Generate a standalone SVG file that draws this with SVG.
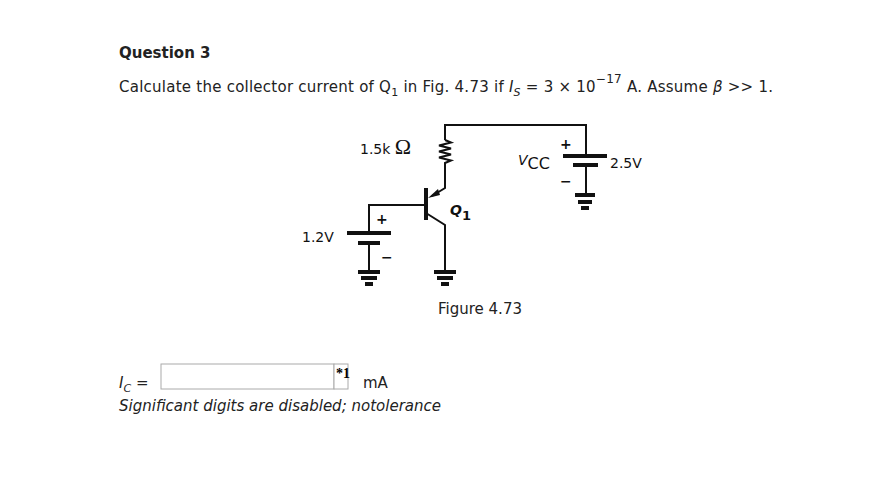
<svg xmlns="http://www.w3.org/2000/svg" width="884" height="487" viewBox="0 0 884 487">
<style>
.t{font-family:"DejaVu Sans",Verdana,sans-serif;font-size:15px;fill:#222}
.w{stroke:#111;stroke-width:2;fill:none}
.p{stroke:#111;stroke-width:4;fill:none}
.c{font-family:"DejaVu Sans",sans-serif;font-size:14px;fill:#111}
</style>
<rect width="884" height="487" fill="#fff"/>
<text x="119" y="58" class="t" font-weight="bold" font-size="16">Question 3</text>
<text x="119" y="92" class="t" textLength="654">Calculate the collector current of Q<tspan font-size="11" dy="4">1</tspan><tspan dy="-4"> in Fig. 4.73 if </tspan><tspan font-style="italic">I</tspan><tspan font-size="11" font-style="italic" dy="4">S</tspan><tspan dy="-4"> = 3 × 10</tspan><tspan font-size="12" dy="-9">−17</tspan><tspan dy="9"> A. Assume </tspan><tspan font-style="italic">β</tspan> &gt;&gt; 1.</text>
<g id="connectors">
<path class="w" d="M445 140V125H586V156"/>
<path class="w" d="M445 140l6 2.5-12 3 12 3-12 3 12 3-12 3 12 3-6 2.5V188L432 196"/>
<path d="M428 198l10-9 2 6z" fill="#111"/>
<path class="p" d="M426 188V220"/>
<path class="w" d="M426 205H369V232M369 243V272M426 213L445 225V272M586 165V195"/>
<path class="p" d="M347 233H391M358 243H380M563 156H607M573 165H598"/>
<path class="p" d="M358 272H380M361 278H377M365 284H373M575 195H595M578 202H592M581 208H589M434 272H456M437 278H453M441 284H449" stroke-width="3"/>
</g>
<g id="labels">
<text x="360" y="154" class="c" font-size="15">1.5k <tspan font-family="Liberation Serif" font-size="22">Ω</tspan></text>
<text x="450" y="215" class="c" font-size="19" font-weight="bold" font-style="italic">Q<tspan font-size="13" dy="5" font-style="normal">1</tspan></text>
<text x="302" y="242" class="c" font-size="15">1.2V</text>
<text x="376" y="224" class="c" font-size="19" font-weight="bold">+</text>
<text x="381" y="262" class="c" font-size="18" font-weight="bold">−</text>
<text x="518" y="165" class="c" font-size="20" font-style="italic">V<tspan font-style="normal" font-size="16" dy="4">CC</tspan></text>
<text x="560" y="149" class="c" font-size="18" font-weight="bold">+</text>
<text x="560" y="186" class="c" font-size="18" font-weight="bold">−</text>
<text x="610" y="168" class="c" font-size="15">2.5V</text>
<text x="438" y="314" class="t" font-size="14">Figure 4.73</text>
</g>
<g id="answer">
<text x="119" y="388" class="t" font-style="italic">I<tspan font-size="11" dy="4">C</tspan><tspan dy="-4" font-style="normal"> =</tspan></text>
<rect x="161" y="364" width="173" height="25" fill="#fff" stroke="#aaa"/>
<rect x="334" y="364" width="14" height="25" fill="#fff" stroke="#aaa"/>
<text x="336" y="378" font-family="Liberation Serif" font-size="14" font-weight="bold">*1</text>
<text x="363" y="388" class="t" font-size="14">mA</text>
<text x="119" y="411" class="t" font-style="italic" fill="#444" textLength="322">Significant digits are disabled; notolerance</text>
</g>
</svg>
